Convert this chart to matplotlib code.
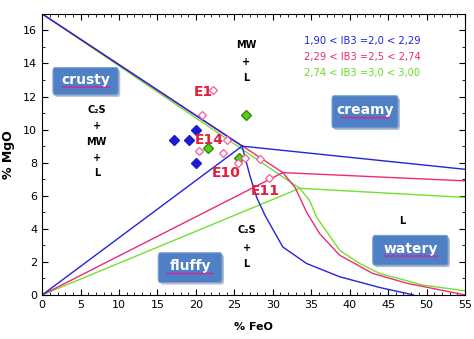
import matplotlib
matplotlib.use("Agg")
import matplotlib.pyplot as plt
from matplotlib.patches import FancyBboxPatch
from matplotlib.ticker import MultipleLocator
import numpy as np

# phase boundaries (% FeO, % MgO) for each basicity range
blue_upper_x = [0, 26.0]
blue_upper_y = [17, 9.0]
blue_origin_x = [0, 26.0]
blue_origin_y = [0, 9.0]
blue_right_x = [26.0, 55]
blue_right_y = [9.0, 7.6]
blue_liq_x = [26.0, 27.0, 27.9, 29.0, 31.3, 34.4, 38.7, 43.9, 48.3]
blue_liq_y = [9.0, 7.25, 5.9, 4.8, 2.9, 1.9, 1.1, 0.45, 0.0]

pink_upper_x = [0, 31.3]
pink_upper_y = [17, 7.4]
pink_origin_x = [0, 31.3]
pink_origin_y = [0, 7.4]
pink_right_x = [31.3, 55]
pink_right_y = [7.4, 6.9]
pink_liq_x = [31.3, 32.9, 34.4, 36.1, 38.7, 43.0, 47.5, 51.8, 55]
pink_liq_y = [7.4, 6.5, 5.0, 3.7, 2.4, 1.3, 0.7, 0.3, 0.0]

green_upper_x = [0, 33.5]
green_upper_y = [17, 6.45]
green_origin_x = [0, 33.5]
green_origin_y = [0, 6.45]
green_right_x = [33.5, 55]
green_right_y = [6.45, 5.9]
green_liq_x = [33.5, 34.8, 35.7, 38.7, 41.3, 43.9, 49.5, 55]
green_liq_y = [6.45, 5.7, 4.7, 2.7, 1.9, 1.3, 0.6, 0.25]

# slag samples
blue_pts_x = [20.0, 17.1, 19.1, 20.0]
blue_pts_y = [10.0, 9.4, 9.4, 8.0]
green_pts_x = [26.5, 21.6, 25.6]
green_pts_y = [10.9, 8.9, 8.3]
pink_pts_x = [22.2, 20.8, 24.1, 20.4, 23.5, 25.5, 26.4, 28.3, 29.5]
pink_pts_y = [12.4, 10.9, 9.4, 8.7, 8.6, 8.0, 8.3, 8.2, 7.1]

sample_names = ["E1", "E14", "E10", "E11"]
sample_x = [21.0, 21.7, 24.0, 29.0]
sample_y = [12.3, 9.4, 7.4, 6.3]

legend_lines = ["1,90 < IB3 =2,0 < 2,29",
                "2,29 < IB3 =2,5 < 2,74",
                "2,74 < IB3 =3,0 < 3,00"]

BLUE = "#2424d8"
PINK = "#ec2a7a"
GREEN = "#74e02c"

fig = plt.figure(figsize=(4.74, 3.39), dpi=100)
ax = fig.add_axes([0.089, 0.13, 0.892, 0.829])

for col, sets in [(GREEN, [(green_upper_x, green_upper_y), (green_origin_x, green_origin_y),
                           (green_right_x, green_right_y), (green_liq_x, green_liq_y)]),
                  (PINK, [(pink_upper_x, pink_upper_y), (pink_origin_x, pink_origin_y),
                          (pink_right_x, pink_right_y), (pink_liq_x, pink_liq_y)]),
                  (BLUE, [(blue_upper_x, blue_upper_y), (blue_origin_x, blue_origin_y),
                          (blue_right_x, blue_right_y), (blue_liq_x, blue_liq_y)])]:
    for xs, ys in sets:
        ax.plot(xs, ys, color=col, lw=1.0, zorder=2)

ax.plot(blue_pts_x, blue_pts_y, "D", color="#1c1cd0", ms=5, ls="none", zorder=4)
ax.plot(green_pts_x, green_pts_y, "D", color="#5ccc1c", mec="#3a8a10", ms=5, ls="none", zorder=4)
ax.plot(pink_pts_x, pink_pts_y, "D", mfc="white", mec="#f0609a", mew=0.9, ms=4.5,
        ls="none", zorder=4)

for name, x, y in zip(sample_names, sample_x, sample_y):
    ax.text(x, y, name, color="#e0203c", fontsize=10, fontweight="bold",
            ha="center", va="center", zorder=5)

# phase field labels
bold = dict(fontsize=7, fontweight="bold", ha="center", va="center", color="black")
for t, y in zip(["MW", "+", "L"], [15.1, 14.1, 13.1]):
    ax.text(26.5, y, t, **bold)
for t, y in zip(["C₂S", "+", "MW", "+", "L"], [11.2, 10.2, 9.25, 8.3, 7.4]):
    ax.text(7.1, y, t, **bold)
for t, y in zip(["C₂S", "+", "L"], [3.9, 2.85, 1.85]):
    ax.text(26.6, y, t, **bold)
ax.text(46.8, 4.45, "L", **bold)


# rounded blue tags with a spell-check squiggle under the word
def tag(x0, x1, y0, y1, word):
    shadow = FancyBboxPatch((x0 + 0.25, y0 - 0.12), x1 - x0, y1 - y0,
                            boxstyle="round,pad=0,rounding_size=0.25",
                            fc="#9aa4b4", ec="none", zorder=5, alpha=0.7)
    box = FancyBboxPatch((x0, y0), x1 - x0, y1 - y0,
                         boxstyle="round,pad=0,rounding_size=0.25",
                         fc="#4f7fc4", ec="#7aa0d8", lw=0.8, zorder=6)
    ax.add_patch(shadow)
    ax.add_patch(box)
    cx = (x0 + x1) / 2
    cy = (y0 + y1) / 2
    ax.text(cx, cy + 0.1, word, color="white", fontsize=10, fontweight="bold",
            ha="center", va="center", zorder=7)
    half = (x1 - x0) * 0.36
    sx = np.linspace(cx - half, cx + half, 40)
    sy = cy - 0.35 + 0.05 * np.sin(np.linspace(0, 24 * np.pi, 40))
    ax.plot(sx, sy, color="#d81e9a", lw=0.8, zorder=7)


tag(1.4, 9.9, 12.1, 13.75, "crusty")
tag(37.7, 46.3, 10.1, 12.05, "creamy")
tag(15.1, 23.4, 0.75, 2.55, "fluffy")
tag(43.0, 52.8, 1.8, 3.6, "watery")

for t, y, col in zip(legend_lines, [15.35, 14.4, 13.45], [BLUE, PINK, "#66dd22"]):
    ax.text(34.0, y, t, color=col, fontsize=7.2, ha="left", va="center")

ax.set_xlim(0, 55)
ax.set_ylim(0, 17)
ax.xaxis.set_major_locator(MultipleLocator(5))
ax.xaxis.set_minor_locator(MultipleLocator(1))
ax.yaxis.set_major_locator(MultipleLocator(2))
ax.yaxis.set_minor_locator(MultipleLocator(1))
ax.tick_params(which="both", direction="in", top=True, right=True, labelsize=8)
ax.tick_params(which="major", length=4)
ax.tick_params(which="minor", length=2)
ax.set_xlabel("% FeO", fontsize=8, fontweight="bold", labelpad=9)
ax.set_ylabel("% MgO", fontsize=9, fontweight="bold", labelpad=6)

fig.savefig("out.png", dpi=100)
